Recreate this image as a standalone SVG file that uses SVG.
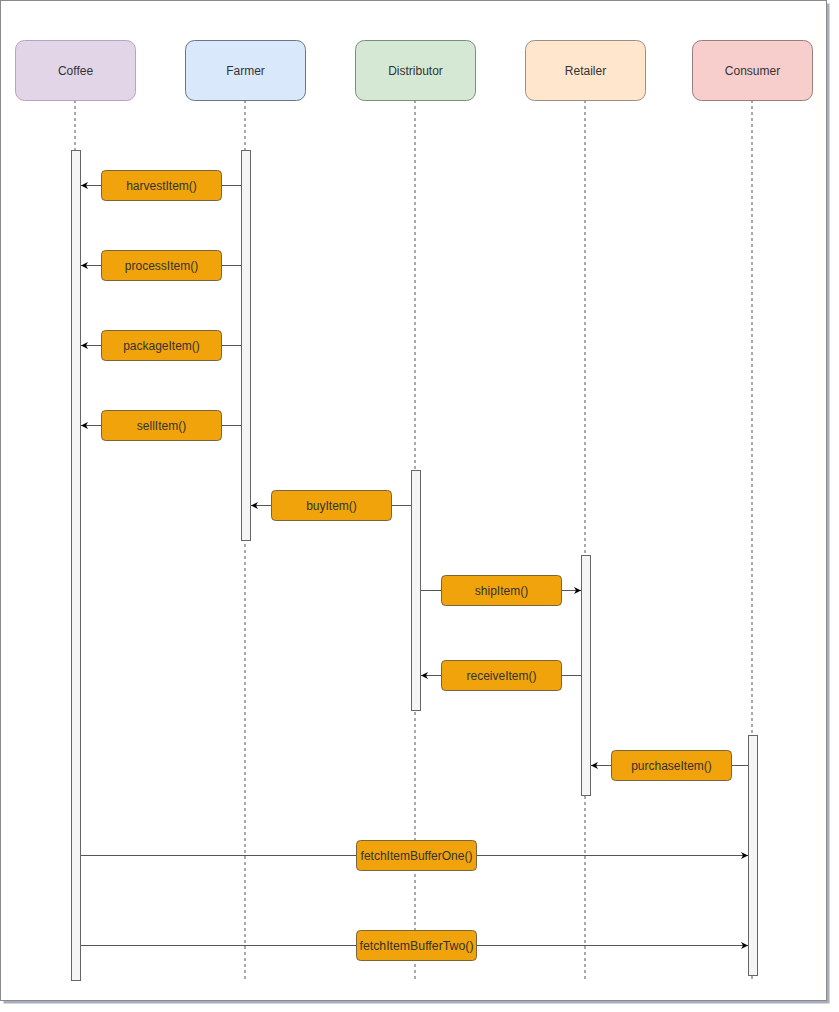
<svg xmlns="http://www.w3.org/2000/svg" width="839" height="1012" viewBox="0 0 839 1012">
<defs>
<marker id="ah" markerWidth="8" markerHeight="8" refX="7" refY="4" orient="auto" markerUnits="userSpaceOnUse">
<path d="M0,0.5 L7,4 L0,7.5 L2,4 Z" fill="#000"/>
</marker>
</defs>
<style>
text{font-family:"Liberation Sans",Arial,sans-serif;font-size:12px;fill:#333;text-anchor:middle;dominant-baseline:central}
.life{stroke:#555;stroke-width:1;stroke-dasharray:3,3;fill:none}
.act{fill:#f5f5f5;stroke:#666;stroke-width:1}
.lbl{fill:#f0a30a;stroke:#7a6440;stroke-width:1}
.msg{stroke:#555;stroke-width:1;fill:none}
.arr{marker-end:url(#ah)}
</style>
<rect x="3.5" y="3.5" width="826" height="1000" fill="#a8adbd"/>
<rect x="0.5" y="0.5" width="826" height="1000" fill="#fff" stroke="#8a8a8a" stroke-width="1"/>

<g id="lifelines">
<line class="life" x1="75" y1="100" x2="75" y2="980"/>
<line class="life" x1="245" y1="100" x2="245" y2="980"/>
<line class="life" x1="415" y1="100" x2="415" y2="980"/>
<line class="life" x1="585" y1="100" x2="585" y2="980"/>
<line class="life" x1="752" y1="100" x2="752" y2="980"/>
</g>

<g id="coffee"><rect x="15.5" y="40.5" width="120" height="60" rx="9" fill="#e1d5e7" stroke="#b9a3c6"/><text x="75.5" y="70.5">Coffee</text></g>
<g id="farmer"><rect x="185.5" y="40.5" width="120" height="60" rx="9" fill="#dae8fc" stroke="#6b7680"/><text x="245.5" y="70.5">Farmer</text></g>
<g id="distributor"><rect x="355.5" y="40.5" width="120" height="60" rx="9" fill="#d5e8d4" stroke="#7d8f7c"/><text x="415.5" y="70.5">Distributor</text></g>
<g id="retailer"><rect x="525.5" y="40.5" width="120" height="60" rx="9" fill="#ffe6cc" stroke="#9a8f84"/><text x="585.5" y="70.5">Retailer</text></g>
<g id="consumer"><rect x="692.5" y="40.5" width="120" height="60" rx="9" fill="#f8cecc" stroke="#9a7e7c"/><text x="752.5" y="70.5">Consumer</text></g>

<g id="activations">
<rect class="act" x="71.5" y="150.5" width="9" height="830"/>
<rect class="act" x="241.5" y="150.5" width="9" height="390"/>
<rect class="act" x="411.5" y="470.5" width="9" height="240"/>
<rect class="act" x="581.5" y="555.5" width="9" height="240"/>
<rect class="act" x="748.5" y="735.5" width="9" height="240"/>
</g>

<g id="connectors">
<line class="msg" x1="241" y1="185.5" x2="221" y2="185.5"/><line class="msg arr" x1="101" y1="185.5" x2="81" y2="185.5"/>
<line class="msg" x1="241" y1="265.5" x2="221" y2="265.5"/><line class="msg arr" x1="101" y1="265.5" x2="81" y2="265.5"/>
<line class="msg" x1="241" y1="345.5" x2="221" y2="345.5"/><line class="msg arr" x1="101" y1="345.5" x2="81" y2="345.5"/>
<line class="msg" x1="241" y1="425.5" x2="221" y2="425.5"/><line class="msg arr" x1="101" y1="425.5" x2="81" y2="425.5"/>
<line class="msg" x1="411" y1="505.5" x2="391" y2="505.5"/><line class="msg arr" x1="271" y1="505.5" x2="251" y2="505.5"/>
<line class="msg" x1="421" y1="590.5" x2="441" y2="590.5"/><line class="msg arr" x1="561" y1="590.5" x2="581" y2="590.5"/>
<line class="msg" x1="581" y1="675.5" x2="561" y2="675.5"/><line class="msg arr" x1="441" y1="675.5" x2="421" y2="675.5"/>
<line class="msg" x1="748" y1="765.5" x2="731" y2="765.5"/><line class="msg arr" x1="611" y1="765.5" x2="591" y2="765.5"/>
<line class="msg arr" x1="81" y1="855.5" x2="748" y2="855.5"/>
<line class="msg arr" x1="81" y1="945.5" x2="748" y2="945.5"/>
</g>

<g id="m-harvest"><rect class="lbl" x="101.5" y="170.5" width="120" height="30" rx="4"/><text x="161.5" y="185.5">harvestItem()</text></g>
<g id="m-process"><rect class="lbl" x="101.5" y="250.5" width="120" height="30" rx="4"/><text x="161.5" y="265.5">processItem()</text></g>
<g id="m-package"><rect class="lbl" x="101.5" y="330.5" width="120" height="30" rx="4"/><text x="161.5" y="345.5">packageItem()</text></g>
<g id="m-sell"><rect class="lbl" x="101.5" y="410.5" width="120" height="30" rx="4"/><text x="161.5" y="425.5">sellItem()</text></g>
<g id="m-buy"><rect class="lbl" x="271.5" y="490.5" width="120" height="30" rx="4"/><text x="331.5" y="505.5">buyItem()</text></g>
<g id="m-ship"><rect class="lbl" x="441.5" y="575.5" width="120" height="30" rx="4"/><text x="501.5" y="590.5">shipItem()</text></g>
<g id="m-receive"><rect class="lbl" x="441.5" y="660.5" width="120" height="30" rx="4"/><text x="501.5" y="675.5">receiveItem()</text></g>
<g id="m-purchase"><rect class="lbl" x="611.5" y="750.5" width="120" height="30" rx="4"/><text x="671.5" y="765.5">purchaseItem()</text></g>
<g id="m-fetch1"><rect class="lbl" x="356.5" y="840.5" width="120" height="30" rx="4"/><text x="416.5" y="855.5">fetchItemBufferOne()</text></g>
<g id="m-fetch2"><rect class="lbl" x="356.5" y="930.5" width="120" height="30" rx="4"/><text x="416.5" y="945.5" textLength="114" lengthAdjust="spacingAndGlyphs">fetchItemBufferTwo()</text></g>
</svg>
